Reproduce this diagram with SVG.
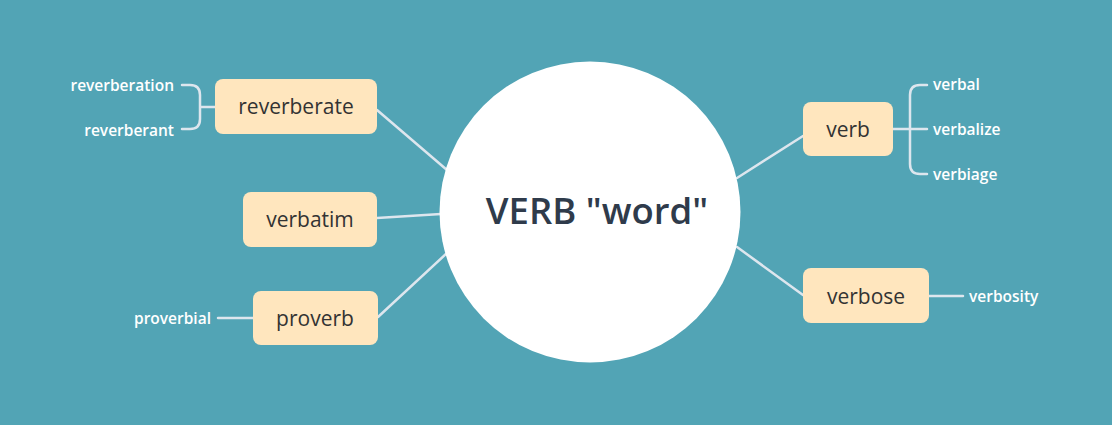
<svg xmlns="http://www.w3.org/2000/svg" width="1112" height="425" viewBox="0 0 1112 425">
<style>
.bg{fill:#52a4b5}
.node rect{fill:#ffe6be}
.node text{font-family:"Open Sans",Lato,sans-serif;font-size:21px;fill:#333;text-anchor:middle;dominant-baseline:central}
.leaf{font-family:"Open Sans",Lato,sans-serif;font-size:15.5px;font-weight:600;fill:#fff;dominant-baseline:central}
.conn path,.conn line{stroke:#dde6ee;stroke-width:2.5;fill:none;stroke-linecap:round}
</style>
<rect class="bg" width="1112" height="425"/>
<g class="conn" id="connectors">
<line x1="377" y1="110" x2="447" y2="170"/>
<line x1="377" y1="218" x2="441" y2="214"/>
<line x1="378" y1="317" x2="447" y2="253"/>
<line x1="737" y1="178" x2="803" y2="136"/>
<line x1="737" y1="247" x2="803" y2="295"/>
<path d="M215 107 H200 M182 85 H190 Q200 85 200 95 V119 Q200 129 190 129 H182"/>
<path d="M893 129 H927 M927 85 H920 Q910 85 910 95 V164 Q910 174 920 174 H927"/>
<line x1="218" y1="318" x2="253" y2="318"/>
<line x1="929" y1="296" x2="963" y2="296"/>
</g>
<g id="center">
<circle cx="590" cy="212" r="150.5" fill="#fff"/>
<text x="597" y="210" font-family="'Open Sans',Lato,sans-serif" font-size="36.5" font-weight="600" fill="#2f3b4b" text-anchor="middle" dominant-baseline="central">VERB "word"</text>
</g>
<g class="node" id="reverberate"><rect x="215" y="79" width="162" height="55" rx="8"/><text x="296" y="106">reverberate</text></g>
<g class="node" id="verbatim"><rect x="243" y="192" width="134" height="55" rx="8"/><text x="310" y="219">verbatim</text></g>
<g class="node" id="proverb"><rect x="253" y="291" width="125" height="54" rx="8"/><text x="315" y="318">proverb</text></g>
<g class="node" id="verb"><rect x="803" y="102" width="90" height="54" rx="8"/><text x="848" y="129">verb</text></g>
<g class="node" id="verbose"><rect x="803" y="268" width="126" height="55" rx="8"/><text x="866" y="296">verbose</text></g>
<g id="leaves">
<text class="leaf" x="174" y="85" text-anchor="end">reverberation</text>
<text class="leaf" x="174" y="130" text-anchor="end">reverberant</text>
<text class="leaf" x="211" y="318" text-anchor="end">proverbial</text>
<text class="leaf" x="933" y="84">verbal</text>
<text class="leaf" x="933" y="129">verbalize</text>
<text class="leaf" x="933" y="174">verbiage</text>
<text class="leaf" x="969" y="296">verbosity</text>
</g>
</svg>
